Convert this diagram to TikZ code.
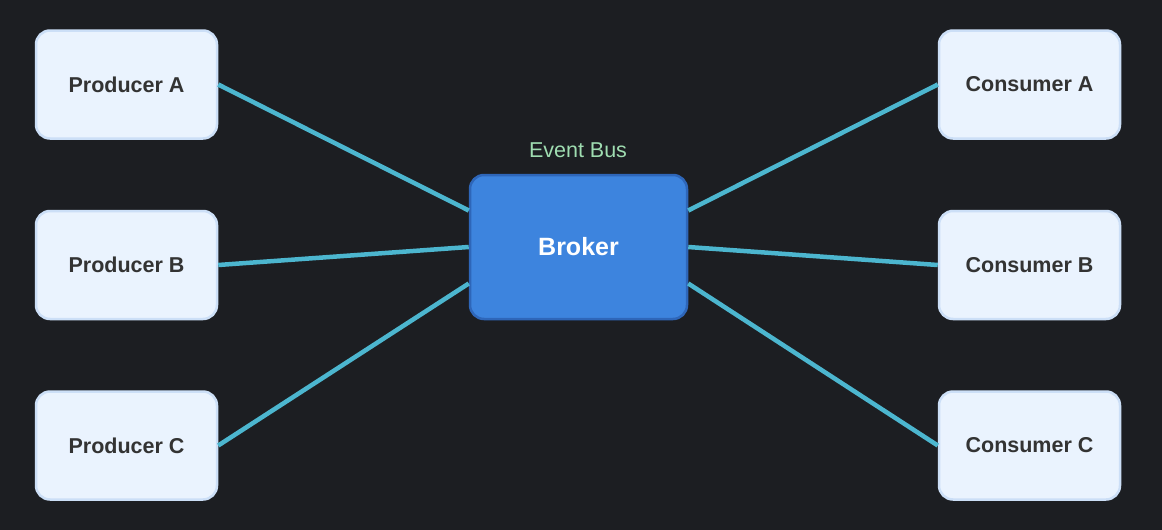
\documentclass[tikz,border=0pt]{standalone}
\usepackage{fontspec}
\setmainfont{Liberation Sans}
\definecolor{bgc}{HTML}{1C1E22}
\definecolor{boxfill}{HTML}{EAF3FE}
\definecolor{boxline}{HTML}{CCDFF7}
\definecolor{txt}{HTML}{333333}
\definecolor{brokfill}{HTML}{3D84DE}
\definecolor{brokline}{HTML}{2E66B9}
\definecolor{wire}{HTML}{4CB6CF}
\definecolor{buslbl}{HTML}{9FDDB1}
\begin{document}
\begin{tikzpicture}[x=1pt,y=-1pt,
  client/.style={draw=boxline,fill=boxfill,line width=2.5pt,rounded corners=14pt,
    minimum width=181pt,minimum height=108pt,inner sep=0pt,
    font=\fontsize{21.5}{25}\selectfont\bfseries,text=txt},
  brokerbox/.style={draw=brokline,fill=brokfill,line width=2.5pt,rounded corners=14pt,
    minimum width=217pt,minimum height=144pt,inner sep=0pt,
    font=\fontsize{25}{29}\selectfont\bfseries,text=white},
  wireline/.style={draw=wire,line width=4.5pt}]
\fill[bgc] (0,0) rectangle (1162,530);
\useasboundingbox (0,0) rectangle (1162,530);
\node[client] (pa) at (126.5,84.5) {Producer A};
\node[client] (pb) at (126.5,265) {Producer B};
\node[client] (pc) at (126.5,445.5) {Producer C};
\node[client] (ca) at (1029.5,84.5) {Consumer A};
\node[client] (cb) at (1029.5,265) {Consumer B};
\node[client] (cc) at (1029.5,445.5) {Consumer C};
\node[brokerbox] (br) at (578.5,247) {Broker};
\node[text=buslbl,font=\fontsize{21.5}{25}\selectfont] (bus) at (578,150) {Event Bus};
\draw[wireline] (pa.east) -- ([yshift=36.5pt]br.west);
\draw[wireline] (pb.east) -- (br.west);
\draw[wireline] (pc.east) -- ([yshift=-36.5pt]br.west);
\draw[wireline] (ca.west) -- ([yshift=36.5pt]br.east);
\draw[wireline] (cb.west) -- (br.east);
\draw[wireline] (cc.west) -- ([yshift=-36.5pt]br.east);
\end{tikzpicture}
\end{document}
